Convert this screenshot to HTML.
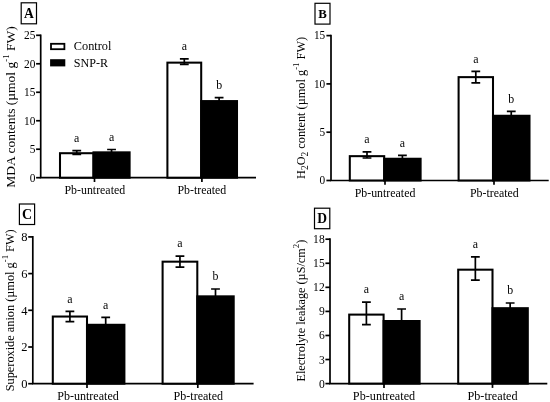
<!DOCTYPE html>
<html><head><meta charset="utf-8"><title>Figure</title>
<style>html,body{margin:0;padding:0;background:#fff}svg{display:block}text{font-family:"Liberation Serif",serif;fill:#000}</style>
</head><body>
<svg width="550" height="402" viewBox="0 0 550 402">
<rect width="550" height="402" fill="#fff"/>
<path d="M40.7 34.449999999999996V177.7H256" fill="none" stroke="#000" stroke-width="1.7"/>
<path d="M36.1 177.70H40.7" stroke="#000" stroke-width="1.7"/>
<text transform="translate(35.40 181.57) scale(1 1.03)" text-anchor="end" font-size="11.4">0</text>
<path d="M36.1 149.22H40.7" stroke="#000" stroke-width="1.7"/>
<text transform="translate(35.40 153.09) scale(1 1.03)" text-anchor="end" font-size="11.4">5</text>
<path d="M36.1 120.74H40.7" stroke="#000" stroke-width="1.7"/>
<text transform="translate(35.40 124.61) scale(1 1.03)" text-anchor="end" font-size="11.4">10</text>
<path d="M36.1 92.26H40.7" stroke="#000" stroke-width="1.7"/>
<text transform="translate(35.40 96.13) scale(1 1.03)" text-anchor="end" font-size="11.4">15</text>
<path d="M36.1 63.78H40.7" stroke="#000" stroke-width="1.7"/>
<text transform="translate(35.40 67.65) scale(1 1.03)" text-anchor="end" font-size="11.4">20</text>
<path d="M36.1 35.30H40.7" stroke="#000" stroke-width="1.7"/>
<text transform="translate(35.40 39.17) scale(1 1.03)" text-anchor="end" font-size="11.4">25</text>
<path d="M94.5 177.7V182.0" stroke="#000" stroke-width="1.7"/>
<path d="M201.9 177.7V182.0" stroke="#000" stroke-width="1.7"/>
<rect x="60" y="153.21" width="33.5" height="24.49" fill="#fff" stroke="#000" stroke-width="2.05"/>
<path d="M76.75 150.59V154.35M72.35 150.59H81.15M72.35 154.35H81.15" stroke="#000" stroke-width="1.7" fill="none"/>
<text transform="translate(76.75 141.79) scale(1 1.03)" text-anchor="middle" font-size="11.9">a</text>
<path d="M111.55 149.50V152.35M107.14999999999999 149.50H115.95" stroke="#000" stroke-width="1.7" fill="none"/>
<rect x="93.5" y="152.35" width="36.099999999999994" height="25.35" fill="#000" stroke="#000" stroke-width="2.05"/>
<text transform="translate(111.55 140.70) scale(1 1.03)" text-anchor="middle" font-size="11.9">a</text>
<rect x="167.4" y="62.64" width="33.79999999999998" height="115.06" fill="#fff" stroke="#000" stroke-width="2.05"/>
<path d="M184.3 58.94V64.35M179.9 58.94H188.70000000000002M179.9 64.35H188.70000000000002" stroke="#000" stroke-width="1.7" fill="none"/>
<text transform="translate(184.30 50.14) scale(1 1.03)" text-anchor="middle" font-size="11.9">a</text>
<path d="M219.1 97.67V101.09M214.7 97.67H223.5" stroke="#000" stroke-width="1.7" fill="none"/>
<rect x="201.2" y="101.09" width="35.80000000000001" height="76.61" fill="#000" stroke="#000" stroke-width="2.05"/>
<text transform="translate(219.10 88.87) scale(1 1.03)" text-anchor="middle" font-size="11.9">b</text>
<text transform="translate(94.80 194.00) scale(1 1.03)" text-anchor="middle" font-size="11.9">Pb-untreated</text>
<text transform="translate(201.80 194.00) scale(1 1.03)" text-anchor="middle" font-size="11.9">Pb-treated</text>
<text transform="translate(14.9 187.7) rotate(-90)" font-size="13.5">MDA contents (µmol g<tspan dy="-5.5" font-size="8.8">-1</tspan><tspan dy="5.5"> FW)</tspan></text>
<rect x="21.2" y="2.8" width="15.3" height="21" fill="#fff" stroke="#000" stroke-width="1.2"/>
<text transform="translate(28.85 18.02) scale(1 1.03)" text-anchor="middle" font-size="13.6" font-weight="bold">A</text>
<rect x="51" y="43.8" width="13.4" height="5.4" fill="#fff" stroke="#000" stroke-width="1.8"/>
<rect x="51" y="60.1" width="13.4" height="5.4" fill="#000" stroke="#000" stroke-width="1.8"/>
<text transform="translate(73.80 50.40) scale(1 1.08)" text-anchor="start" font-size="12.3">Control</text><text transform="translate(73.80 66.80) scale(1 1.08)" text-anchor="start" font-size="12.1">SNP-R</text>
<path d="M331 34.75V180.5H548.7" fill="none" stroke="#000" stroke-width="1.7"/>
<path d="M326.4 180.50H331" stroke="#000" stroke-width="1.7"/>
<text transform="translate(325.20 184.34) scale(1 1.03)" text-anchor="end" font-size="11.3">0</text>
<path d="M326.4 132.20H331" stroke="#000" stroke-width="1.7"/>
<text transform="translate(325.20 136.04) scale(1 1.03)" text-anchor="end" font-size="11.3">5</text>
<path d="M326.4 83.90H331" stroke="#000" stroke-width="1.7"/>
<text transform="translate(325.20 87.74) scale(1 1.03)" text-anchor="end" font-size="11.3">10</text>
<path d="M326.4 35.60H331" stroke="#000" stroke-width="1.7"/>
<text transform="translate(325.20 39.44) scale(1 1.03)" text-anchor="end" font-size="11.3">15</text>
<path d="M385 180.5V184.8" stroke="#000" stroke-width="1.7"/>
<path d="M494 180.5V184.8" stroke="#000" stroke-width="1.7"/>
<rect x="349.8" y="156.16" width="34.39999999999998" height="24.34" fill="#fff" stroke="#000" stroke-width="2.05"/>
<path d="M367.0 151.81V157.99M362.6 151.81H371.4M362.6 157.99H371.4" stroke="#000" stroke-width="1.7" fill="none"/>
<text transform="translate(367.00 143.01) scale(1 1.03)" text-anchor="middle" font-size="11.9">a</text>
<path d="M402.4 155.38V158.76M398.0 155.38H406.79999999999995" stroke="#000" stroke-width="1.7" fill="none"/>
<rect x="384.2" y="158.76" width="36.400000000000034" height="21.74" fill="#000" stroke="#000" stroke-width="2.05"/>
<text transform="translate(402.40 146.58) scale(1 1.03)" text-anchor="middle" font-size="11.9">a</text>
<rect x="458.6" y="77.14" width="34.39999999999998" height="103.36" fill="#fff" stroke="#000" stroke-width="2.05"/>
<path d="M475.8 71.34V82.93M471.40000000000003 71.34H480.2M471.40000000000003 82.93H480.2" stroke="#000" stroke-width="1.7" fill="none"/>
<text transform="translate(475.80 62.54) scale(1 1.03)" text-anchor="middle" font-size="11.9">a</text>
<path d="M511.25 111.43V115.78M506.85 111.43H515.65" stroke="#000" stroke-width="1.7" fill="none"/>
<rect x="493" y="115.78" width="36.5" height="64.72" fill="#000" stroke="#000" stroke-width="2.05"/>
<text transform="translate(511.25 102.63) scale(1 1.03)" text-anchor="middle" font-size="11.9">b</text>
<text transform="translate(385.00 197.40) scale(1 1.03)" text-anchor="middle" font-size="11.9">Pb-untreated</text>
<text transform="translate(494.30 197.40) scale(1 1.03)" text-anchor="middle" font-size="11.9">Pb-treated</text>
<text transform="translate(304.8 178.9) rotate(-90)" font-size="12.3">H<tspan dy="3" font-size="9.4">2</tspan><tspan dy="-3">O</tspan><tspan dy="3" font-size="9.4">2</tspan><tspan dy="-3"> content (µmol g</tspan><tspan dy="-5.5" font-size="8.8">-1</tspan><tspan dy="5.5"> FW)</tspan></text>
<rect x="315" y="3.3" width="15" height="20.8" fill="#fff" stroke="#000" stroke-width="1.2"/>
<text transform="translate(322.50 17.82) scale(1 1.03)" text-anchor="middle" font-size="12.8" font-weight="bold">B</text>

<path d="M32.8 236.05V383.7H253.6" fill="none" stroke="#000" stroke-width="1.7"/>
<path d="M28.199999999999996 383.70H32.8" stroke="#000" stroke-width="1.7"/>
<text transform="translate(27.50 388.03) scale(1 1.05)" text-anchor="end" font-size="12.5">0</text>
<path d="M28.199999999999996 347.00H32.8" stroke="#000" stroke-width="1.7"/>
<text transform="translate(27.50 351.33) scale(1 1.05)" text-anchor="end" font-size="12.5">2</text>
<path d="M28.199999999999996 310.30H32.8" stroke="#000" stroke-width="1.7"/>
<text transform="translate(27.50 314.63) scale(1 1.05)" text-anchor="end" font-size="12.5">4</text>
<path d="M28.199999999999996 273.60H32.8" stroke="#000" stroke-width="1.7"/>
<text transform="translate(27.50 277.93) scale(1 1.05)" text-anchor="end" font-size="12.5">6</text>
<path d="M28.199999999999996 236.90H32.8" stroke="#000" stroke-width="1.7"/>
<text transform="translate(27.50 241.23) scale(1 1.05)" text-anchor="end" font-size="12.5">8</text>
<path d="M87 383.7V388.0" stroke="#000" stroke-width="1.7"/>
<path d="M197.8 383.7V388.0" stroke="#000" stroke-width="1.7"/>
<rect x="52.8" y="316.54" width="34.2" height="67.16" fill="#fff" stroke="#000" stroke-width="2.05"/>
<path d="M69.9 311.40V321.68M65.5 311.40H74.30000000000001M65.5 321.68H74.30000000000001" stroke="#000" stroke-width="1.7" fill="none"/>
<text transform="translate(69.90 302.60) scale(1 1.05)" text-anchor="middle" font-size="11.9">a</text>
<path d="M105.7 317.46V324.80M101.3 317.46H110.10000000000001" stroke="#000" stroke-width="1.7" fill="none"/>
<rect x="87" y="324.80" width="37.400000000000006" height="58.90" fill="#000" stroke="#000" stroke-width="2.05"/>
<text transform="translate(105.70 308.66) scale(1 1.05)" text-anchor="middle" font-size="11.9">a</text>
<rect x="162.6" y="261.67" width="34.70000000000002" height="122.03" fill="#fff" stroke="#000" stroke-width="2.05"/>
<path d="M179.95 256.17V267.18M175.54999999999998 256.17H184.35M175.54999999999998 267.18H184.35" stroke="#000" stroke-width="1.7" fill="none"/>
<text transform="translate(179.95 247.37) scale(1 1.05)" text-anchor="middle" font-size="11.9">a</text>
<path d="M215.5 289.01V296.35M211.1 289.01H219.9" stroke="#000" stroke-width="1.7" fill="none"/>
<rect x="197.3" y="296.35" width="36.39999999999998" height="87.35" fill="#000" stroke="#000" stroke-width="2.05"/>
<text transform="translate(215.50 280.21) scale(1 1.05)" text-anchor="middle" font-size="11.9">b</text>
<text transform="translate(88.00 400.00) scale(1 1.05)" text-anchor="middle" font-size="12.05">Pb-untreated</text>
<text transform="translate(198.30 400.00) scale(1 1.05)" text-anchor="middle" font-size="12.05">Pb-treated</text>
<text transform="translate(13.7 391.3) rotate(-90)" font-size="12.3">Superoxide anion (µmol g<tspan dy="-5.5" font-size="8.8">-1</tspan><tspan dy="5.5"> FW)</tspan></text>
<rect x="19.4" y="204" width="15.2" height="20.5" fill="#fff" stroke="#000" stroke-width="1.2"/>
<text transform="translate(27.00 219.45) scale(1 1.05)" text-anchor="middle" font-size="14" font-weight="bold">C</text>

<path d="M330 238.35V383.6H547.3" fill="none" stroke="#000" stroke-width="1.7"/>
<path d="M325.4 383.60H330" stroke="#000" stroke-width="1.7"/>
<text transform="translate(324.70 387.62) scale(1 1.05)" text-anchor="end" font-size="11.6">0</text>
<path d="M325.4 359.53H330" stroke="#000" stroke-width="1.7"/>
<text transform="translate(324.70 363.55) scale(1 1.05)" text-anchor="end" font-size="11.6">3</text>
<path d="M325.4 335.47H330" stroke="#000" stroke-width="1.7"/>
<text transform="translate(324.70 339.49) scale(1 1.05)" text-anchor="end" font-size="11.6">6</text>
<path d="M325.4 311.40H330" stroke="#000" stroke-width="1.7"/>
<text transform="translate(324.70 315.42) scale(1 1.05)" text-anchor="end" font-size="11.6">9</text>
<path d="M325.4 287.33H330" stroke="#000" stroke-width="1.7"/>
<text transform="translate(324.70 291.35) scale(1 1.05)" text-anchor="end" font-size="11.6">12</text>
<path d="M325.4 263.27H330" stroke="#000" stroke-width="1.7"/>
<text transform="translate(324.70 267.29) scale(1 1.05)" text-anchor="end" font-size="11.6">15</text>
<path d="M325.4 239.20H330" stroke="#000" stroke-width="1.7"/>
<text transform="translate(324.70 243.22) scale(1 1.05)" text-anchor="end" font-size="11.6">18</text>
<path d="M384 383.6V387.90000000000003" stroke="#000" stroke-width="1.7"/>
<path d="M492.5 383.6V387.90000000000003" stroke="#000" stroke-width="1.7"/>
<rect x="349.2" y="314.61" width="34.400000000000034" height="68.99" fill="#fff" stroke="#000" stroke-width="2.05"/>
<path d="M366.4 302.17V324.64M362.0 302.17H370.79999999999995M362.0 324.64H370.79999999999995" stroke="#000" stroke-width="1.7" fill="none"/>
<text transform="translate(366.40 293.37) scale(1 1.05)" text-anchor="middle" font-size="11.9">a</text>
<path d="M401.6 308.99V321.03M397.20000000000005 308.99H406.0" stroke="#000" stroke-width="1.7" fill="none"/>
<rect x="383.6" y="321.03" width="36.0" height="62.57" fill="#000" stroke="#000" stroke-width="2.05"/>
<text transform="translate(401.60 300.19) scale(1 1.05)" text-anchor="middle" font-size="11.9">a</text>
<rect x="458.2" y="269.68" width="34.30000000000001" height="113.92" fill="#fff" stroke="#000" stroke-width="2.05"/>
<path d="M475.35 256.85V280.11M470.95000000000005 256.85H479.75M470.95000000000005 280.11H479.75" stroke="#000" stroke-width="1.7" fill="none"/>
<text transform="translate(475.35 248.05) scale(1 1.05)" text-anchor="middle" font-size="11.9">a</text>
<path d="M510.15 302.98V308.19M505.75 302.98H514.55" stroke="#000" stroke-width="1.7" fill="none"/>
<rect x="492.5" y="308.19" width="35.299999999999955" height="75.41" fill="#000" stroke="#000" stroke-width="2.05"/>
<text transform="translate(510.15 294.18) scale(1 1.05)" text-anchor="middle" font-size="11.9">b</text>
<text transform="translate(384.00 399.90) scale(1 1.05)" text-anchor="middle" font-size="12.2">Pb-untreated</text>
<text transform="translate(492.50 399.90) scale(1 1.05)" text-anchor="middle" font-size="12.2">Pb-treated</text>
<text transform="translate(304.9 381.5) rotate(-90)" font-size="12.22">Electrolyte leakage (µS/cm<tspan dy="-5.5" font-size="8.8">2</tspan><tspan dy="5.5">)</tspan></text>
<rect x="314.5" y="208.2" width="15.3" height="20.5" fill="#fff" stroke="#000" stroke-width="1.2"/>
<text transform="translate(322.15 222.65) scale(1 1.05)" text-anchor="middle" font-size="13.5" font-weight="bold">D</text>

</svg>
</body></html>
